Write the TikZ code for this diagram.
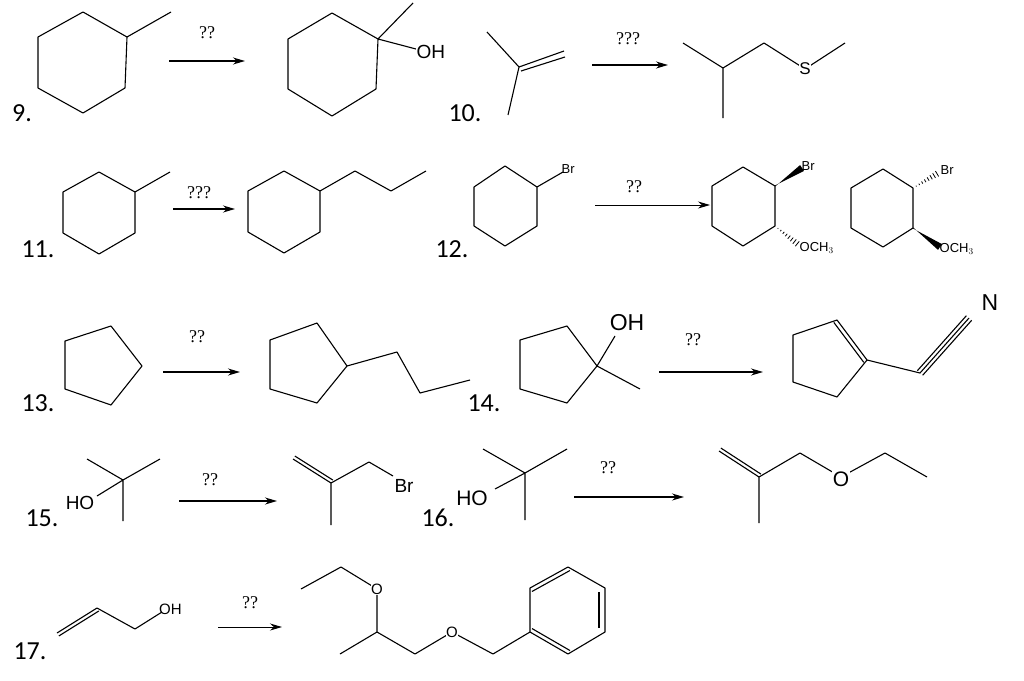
\documentclass[tikz,border=0pt]{standalone}
\usepackage{fontspec}
\setmainfont{Liberation Sans}
\newfontfamily\numfont{Carlito}
\newfontfamily\qfont{Liberation Serif}
\usetikzlibrary{calc,arrows.meta}
\tikzset{bond/.style={line width=1.1pt,line join=round},
 rxn/.style={line width=1.4pt,-{Stealth[length=12pt,width=7pt]}},
 num/.style={font=\numfont\fontsize{26}{26}\selectfont,inner sep=0pt},
 qq/.style={font=\qfont\fontsize{18}{18}\selectfont,inner sep=0pt},
 atom/.style={font=\fontsize{19}{19}\selectfont,inner sep=0.5pt,fill=white},
 satom/.style={font=\fontsize{13}{13}\selectfont,inner sep=0.5pt}}
\newcommand{\hashb}[2]{\foreach \t in {0.12,0.23,...,1.0}{\draw[line width=0.8pt] ($(#1)!\t!(#2)!{3.5pt*\t}!90:(#2)$) -- ($(#1)!\t!(#2)!{3.5pt*\t}!-90:(#2)$);}}
\newcommand{\wedgeb}[2]{\fill ($(#1)!0.5pt!90:(#2)$) -- ($(#2)!3.5pt!90:(#1)$) -- ($(#2)!3.5pt!-90:(#1)$) -- ($(#1)!0.5pt!-90:(#2)$) -- cycle;}
\begin{document}
\begin{tikzpicture}[x=1pt,y=-1pt]
\useasboundingbox (0,0) rectangle (1024,680);
% 9
\draw[bond] (83,12)--(127,37)--(125,88)--(83,113)--(38,88)--(38,37)--cycle (127,37)--(171,12);
\node[num] (n9) at (22,113) {9.};
\node[qq] (q9) at (207,33) {??};
\draw[rxn] (169,61)--(245,61);
\draw[bond] (332,13)--(378,39)--(376,89)--(332,116)--(288,89)--(288,39)--cycle (378,39)--(413,3) (378,39)--(416,49);
\node[atom,anchor=west] (oh9) at (416,52) {OH};
% 10
\node[num] (n10) at (465,113) {10.};
\draw[bond] (487,32)--(519,67)--(508,115);
\draw[bond] (519,67)--(564,51) ($(519,67)+(2,4)$)--($(565,55)+(0,2)$);
\node[qq] (q10) at (628,39) {???};
\draw[rxn] (592,65)--(668,65);
\draw[bond] (683,43)--(723,68)--(723,118) (723,68)--(764,43)--(805,69)--(845,43);
\node[atom,font=\fontsize{17}{17}\selectfont] (s10) at (805,69) {S};
% 11
\draw[bond] (99,172)--(135,192)--(135,233)--(99,254)--(63,233)--(63,192)--cycle (135,192)--(170,172);
\node[num] (n11) at (38,249) {11.};
\node[qq] (q11) at (199,193) {???};
\draw[rxn] (173,209)--(235,209);
\draw[bond] (284,171)--(320,191)--(320,232)--(284,253)--(248,232)--(248,191)--cycle (320,191)--(355,171)--(391,191)--(426,171);
% 12
\node[num] (n12) at (452,249) {12.};
\draw[bond] (505,166)--(537,187)--(537,226)--(505,246)--(474,226)--(474,187)--cycle (537,187)--(563,172);
\node[satom,anchor=south west] (br12) at (561,174) {Br};
\node[qq] (q12) at (634,187) {??};
\draw[rxn,line width=0.9pt] (595,205)--(710,205);
\draw[bond] (743,167)--(775,186)--(775,226)--(743,246)--(712,226)--(712,186)--cycle;
\coordinate (a1) at (775,186); \coordinate (b1) at (802,168);
\coordinate (a2) at (775,226); \coordinate (b2) at (800,246);
\wedgeb{a1}{b1} \hashb{a2}{b2}
\node[satom,anchor=west] (brp1) at (801,166) {Br};
\node[satom,anchor=west] (oc1) at (799,248) {OCH$_3$};
\draw[bond] (883,169)--(913,188)--(913,228)--(883,247)--(851,228)--(851,188)--cycle;
\coordinate (a3) at (913,188); \coordinate (b3) at (940,172);
\coordinate (a4) at (913,228); \coordinate (b4) at (940,247);
\hashb{a3}{b3} \wedgeb{a4}{b4}
\node[satom,anchor=west] (brp2) at (940,170) {Br};
\node[satom,anchor=west] (oc2) at (939,249) {OCH$_3$};
% 13
\draw[bond] (111,326)--(142,366)--(111,405)--(65,389)--(65,341)--cycle;
\node[num] (n13) at (38,403) {13.};
\node[qq] (q13) at (197,337) {??};
\draw[rxn] (163,372)--(240,372);
\draw[bond] (317,323)--(347,366)--(317,403)--(270,389)--(270,340)--cycle (347,366)--(397,352)--(420,393)--(470,380);
% 14
\node[num] (n14) at (484,403) {14.};
\draw[bond] (567,326)--(597,366)--(567,403)--(520,389)--(520,340)--cycle (597,366)--(615,336) (597,366)--(640,389);
\node[font=\fontsize{23}{23}\selectfont,inner sep=0pt] (oh14) at (627,323) {OH};
\node[qq] (q14) at (693,340) {??};
\draw[rxn] (659,372)--(763,372);
\draw[bond] (837,320)--(867,360)--(837,397)--(793,382)--(793,335)--cycle (867,360)--(920,373)--(969,318);
\draw[bond] ($(837,320)!4pt!-90:(867,360)$) -- ($(867,360)!4pt!90:(837,320)$);
\draw[bond] ($(920,373)!3.5pt!90:(969,318)$)--($(969,318)!3.5pt!-90:(920,373)$) ($(920,373)!3.5pt!-90:(969,318)$)--($(969,318)!3.5pt!90:(920,373)$);
\node[font=\fontsize{23}{23}\selectfont,inner sep=0pt] (n14n) at (990,303) {N};
% 15
\node[num] (n15) at (42,518) {15.};
\draw[bond] (87,459)--(123,480)--(160,459) (123,480)--(123,521) (123,480)--(97,496);
\node[font=\fontsize{19}{19}\selectfont,inner sep=0pt] (ho15) at (80,503) {HO};
\node[qq] (q15) at (210,480) {??};
\draw[rxn] (179,501)--(277,501);
\draw[bond] (293,459)--(331,483)--(331,525) (331,483)--(369,462)--(393,476);
\draw[bond] ($(293,459)!3.5pt!90:(331,483)$)--($(331,483)!3.5pt!-90:(293,459)$);
\node[font=\fontsize{19}{19}\selectfont,inner sep=0pt] (br15) at (404,486) {Br};
% 16
\node[num] (n16) at (438,518) {16.};
\draw[bond] (483,449)--(525,473)--(567,449) (525,473)--(525,520) (525,473)--(495,489);
\node[font=\fontsize{21}{21}\selectfont,inner sep=0pt] (ho16) at (472,498) {HO};
\node[qq] (q16) at (608,468) {??};
\draw[rxn] (574,497)--(684,497);
\draw[bond] (719,451)--(759,477)--(759,523) (759,477)--(800,453)--(841,477)--(885,453)--(927,477);
\draw[bond] ($(719,451)!3.5pt!90:(759,477)$)--($(759,477)!3.5pt!-90:(719,451)$);
\node[font=\fontsize{21}{21}\selectfont,inner sep=0.5pt,fill=white] (o16) at (841,479) {O};
% 17
\node[num] (n17) at (30,651) {17.};
\draw[bond] (57,633)--(97,608)--(135,629)--(162,612);
\draw[bond] ($(57,633)!3.5pt!-90:(97,608)$)--($(97,608)!3.5pt!90:(57,633)$);
\node[font=\fontsize{15}{15}\selectfont,inner sep=0pt,anchor=west] (oh17) at (159,609) {OH};
\node[qq] (q17) at (250,603) {??};
\draw[rxn,line width=1pt] (218,627)--(282,627);
\draw[bond] (301,589)--(341,567)--(377,589)--(377,632)--(340,654) (377,632)--(415,654)--(452,632)--(493,654)--(530,632);
\draw[bond] (530,632)--(530,588)--(568,567)--(605,588)--(605,632)--(568,654)--cycle;
\draw[bond] ($(530,588)!4pt!-90:(568,567)$)--($(568,567)!4pt!90:(530,588)$);
\draw[bond] (599,592)--(599,628);
\draw[bond] ($(568,654)!4pt!-90:(530,632)$)--($(530,632)!4pt!90:(568,654)$);
\node[font=\fontsize{15}{15}\selectfont,inner sep=0.5pt,fill=white] (o17a) at (377,589) {O};
\node[font=\fontsize{15}{15}\selectfont,inner sep=0.5pt,fill=white] (o17b) at (452,632) {O};
\end{tikzpicture}
\end{document}
